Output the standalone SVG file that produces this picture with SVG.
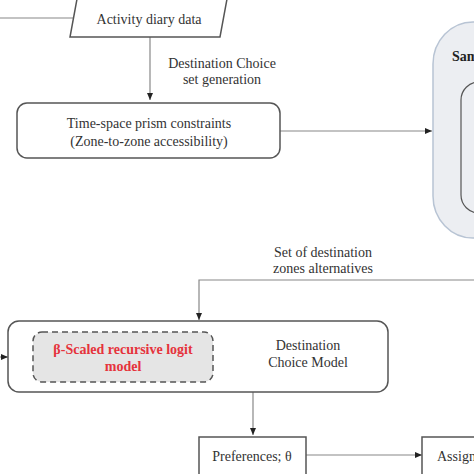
<svg xmlns="http://www.w3.org/2000/svg" width="474" height="474" viewBox="0 0 474 474">
<defs>
<marker id="ah" markerWidth="8" markerHeight="8" refX="7" refY="4" orient="auto" markerUnits="userSpaceOnUse">
<path d="M0,1 L7,4 L0,7 Z" fill="#222"/>
</marker>
<style>
.t{font-family:"Liberation Serif","Times New Roman",serif;font-size:14px;fill:#333;text-anchor:middle}
.box{fill:#fff;stroke:#555;stroke-width:1.5}
.c{fill:none;stroke:#888;stroke-width:1.2}
</style>
</defs>
<rect width="474" height="474" fill="#fff"/>
<g id="connectors">
<path class="c" d="M0,18 H73"/>
<path class="c" d="M150,37 V100" marker-end="url(#ah)"/>
<path class="c" d="M280,131 H432" marker-end="url(#ah)"/>
<path class="c" d="M474,280 H199 V320" marker-end="url(#ah)"/>
<path class="c" d="M0,357 H8" marker-end="url(#ah)"/>
<path class="c" d="M253,392 V435" marker-end="url(#ah)"/>
<path class="c" d="M306,455 H422" marker-end="url(#ah)"/>
<text class="t" x="222" y="68">Destination Choice</text>
<text class="t" x="222" y="84">set generation</text>
<text class="t" x="323" y="257">Set of destination</text>
<text class="t" x="323" y="273">zones alternatives</text>
</g>
<g id="activity">
<polygon points="77,-1 227,-1 220,37 70,37" class="box"/>
<text class="t" x="149" y="24">Activity diary data</text>
</g>
<g id="prism">
<rect x="17" y="103" width="263" height="55" rx="10" class="box"/>
<text class="t" x="149" y="128">Time-space prism constraints</text>
<text class="t" x="149" y="146">(Zone-to-zone accessibility)</text>
</g>
<g id="sample">
<rect x="433" y="22" width="80" height="216" rx="42" fill="#eceef2" stroke="#b8c4d4" stroke-width="1.5"/>
<text x="452" y="61" style="font-family:'Liberation Serif',serif;font-size:14px;font-weight:bold;fill:#222">Sam</text>
<rect x="461" y="82" width="40" height="131" rx="18" fill="none" stroke="#555" stroke-width="1.2"/>
</g>
<g id="dcm">
<rect x="8" y="321" width="380" height="71" rx="11" class="box"/>
<text class="t" x="308" y="350">Destination</text>
<text class="t" x="308" y="367">Choice Model</text>
</g>
<g id="rl">
<rect x="33" y="332" width="180" height="50" rx="9" fill="#e5e5e5" stroke="#555" stroke-width="1.5" stroke-dasharray="6,4"/>
<text class="t" x="123" y="354" style="fill:#e5333c;font-weight:bold">β-Scaled recursive logit</text>
<text class="t" x="123" y="371" style="fill:#e5333c;font-weight:bold">model</text>
</g>
<g id="pref">
<rect x="199" y="437" width="107" height="45" class="box"/>
<text class="t" x="252" y="461">Preferences; θ</text>
</g>
<g id="assign">
<rect x="422" y="437" width="80" height="45" class="box"/>
<text class="t" x="437" y="461" style="text-anchor:start">Assign</text>
</g>
</svg>
